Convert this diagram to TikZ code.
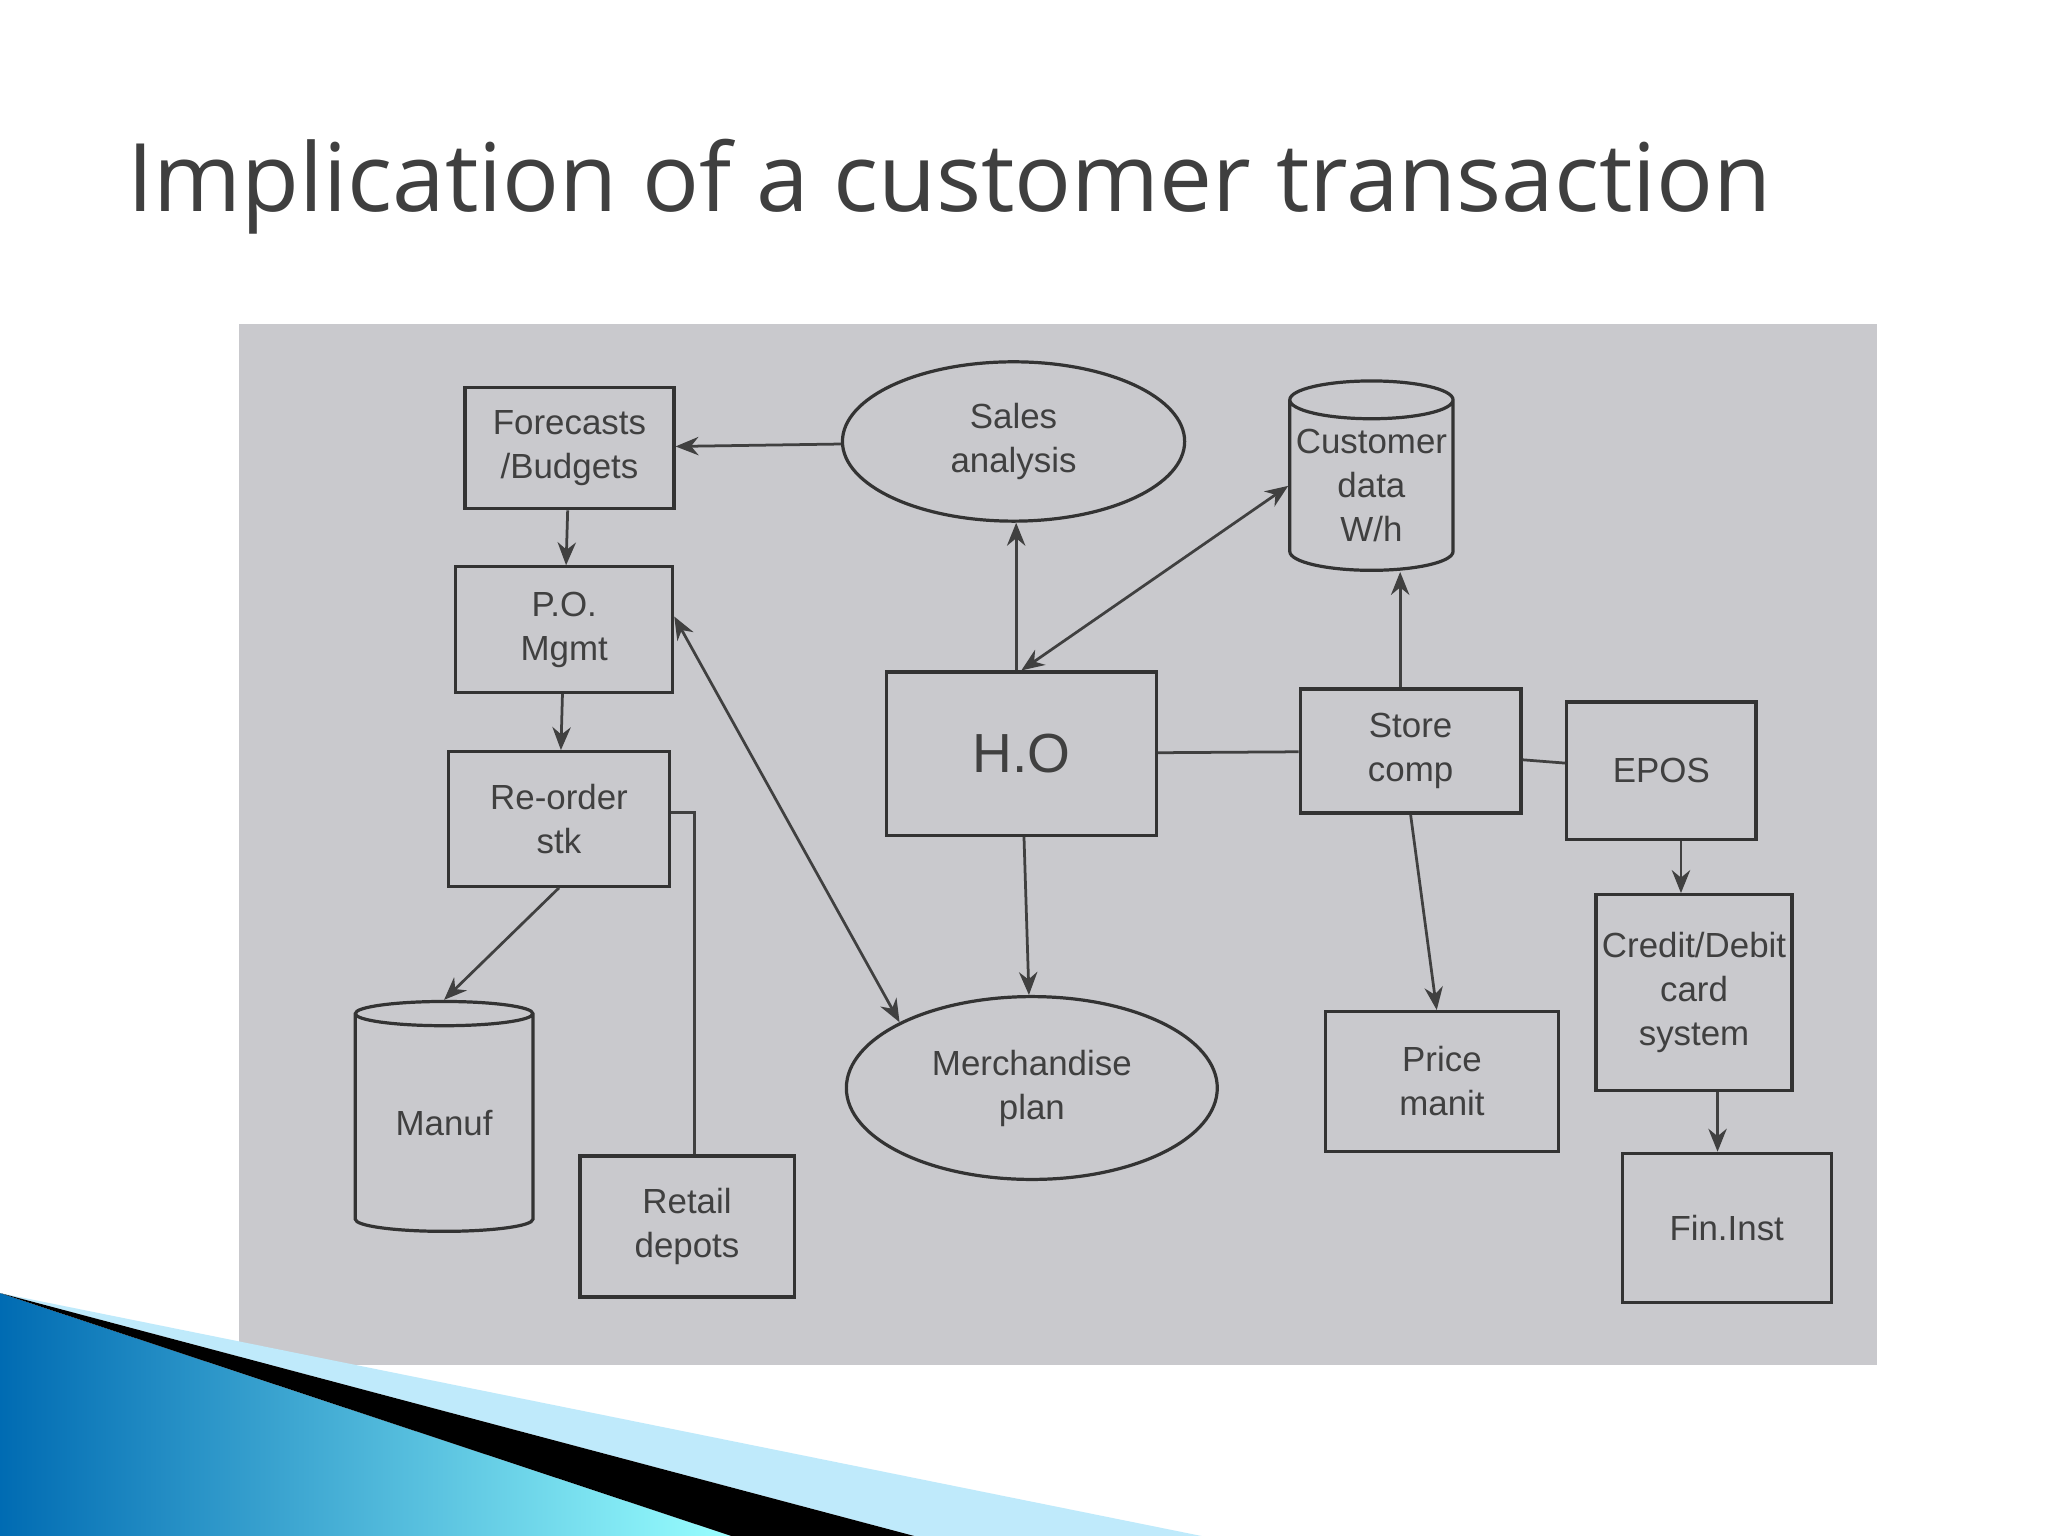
\documentclass[tikz,border=0pt]{standalone}
\usepackage{fontspec}
\setmainfont{Open Sans}
\setsansfont{Liberation Sans}
\usetikzlibrary{shapes.geometric,arrows.meta}
\definecolor{photo}{HTML}{C9C9CD}
\definecolor{ttl}{HTML}{3F3F3F}
\begin{document}
\begin{tikzpicture}[x=0.1mm,y=-0.1mm,
  box/.style={draw=black!80,line width=0.7pt,fill=photo,align=center,font=\sffamily\fontsize{7.6}{9.6}\selectfont,text=black!75,inner sep=0pt},
  oval/.style={box,ellipse},
  cyl/.style={box,cylinder,shape border rotate=90,aspect=0.25},
  con/.style={draw=black!75,line width=0.6pt},
  arr/.style={con,-{Stealth[length=5pt,width=4pt]}},
  darr/.style={con,{Stealth[length=5pt,width=4pt]}-{Stealth[length=5pt,width=4pt]}}]
\useasboundingbox (0,0) rectangle (1568,1176);
\fill[white] (0,0) rectangle (1568,1176);
\node[anchor=base west,inner sep=0pt,text=ttl,font=\fontsize{20.6}{24}\selectfont] (title) at (97,162) {Implication of a customer transaction};
\fill[photo] (183,248) rectangle (1437,1045);
% bottom-left decoration
\shade[left color=cyan!60!blue!70!black,right color=cyan!40] (0,990) -- (0,1176) -- (560,1176) -- cycle;
\fill[cyan!25] (0,990) -- (920,1176) -- (700,1176) -- cycle;
\fill[black] (0,990) -- (700,1176) -- (560,1176) -- cycle;

\node[box,minimum width=16mm,minimum height=9.3mm] (fc) at (436,343) {Forecasts\\/Budgets};
\node[oval,minimum width=26.2mm,minimum height=12.2mm] (sa) at (776,338) {Sales\\analysis};
\node[cyl,minimum width=12.5mm,minimum height=14.5mm] (cd) at (1050,372) {Customer\\data\\W/h};
\node[box,minimum width=16.6mm,minimum height=9.6mm] (po) at (432,482) {P.O.\\Mgmt};
\node[box,minimum width=20.7mm,minimum height=12.5mm,font=\sffamily\fontsize{12}{14}\selectfont] (ho) at (782,577) {H.O};
\node[box,minimum width=16.9mm,minimum height=9.5mm] (sc) at (1080,575) {Store\\comp};
\node[box,minimum width=14.5mm,minimum height=10.5mm] (ep) at (1272,590) {EPOS};
\node[box,minimum width=16.9mm,minimum height=10.3mm] (ro) at (428,627) {Re-order\\stk};
\node[cyl,minimum width=13.6mm,minimum height=17.6mm] (mf) at (340,860) {Manuf};
\node[oval,minimum width=28.4mm,minimum height=14mm] (mp) at (790,833) {Merchandise\\plan};
\node[box,minimum width=17.8mm,minimum height=10.7mm] (pm) at (1104,828) {Price\\manit};
\node[box,minimum width=15mm,minimum height=15mm] (cr) at (1297,760) {Credit/Debit\\card\\system};
\node[box,minimum width=16.4mm,minimum height=10.8mm] (rd) at (526,939) {Retail\\depots};
\node[box,minimum width=16mm,minimum height=11.4mm] (fi) at (1322,940) {Fin.Inst};

\draw[arr] (sa) -- (fc);
\draw[arr] (fc) -- (po);
\draw[arr] (po) -- (ro);
\draw[arr] (ro.south) -- (mf.north);
\draw[con] (ro.east |- 0,622) -| (rd.north -| 532,0);
\draw[darr] (po.east |- 0,472) -- (mp.north west);
\draw[arr] (ho.north -| 778,0) -- (sa.south -| 778,0);
\draw[darr] (ho.north) -- (cd.west);
\draw[arr] (ho) -- (mp);
\draw[con] (ho) -- (sc);
\draw[arr] (sc.north -| 1072,0) -- (cd.south -| 1072,0);
\draw[con] (sc) -- (ep);
\draw[arr] (sc.south) -- (pm.north -| 1100,0);
\draw[arr] (ep.south -| 1287,0) -- (cr.north -| 1287,0);
\draw[arr] (cr.south -| 1315,0) -- (fi.north -| 1315,0);
\end{tikzpicture}
\end{document}
